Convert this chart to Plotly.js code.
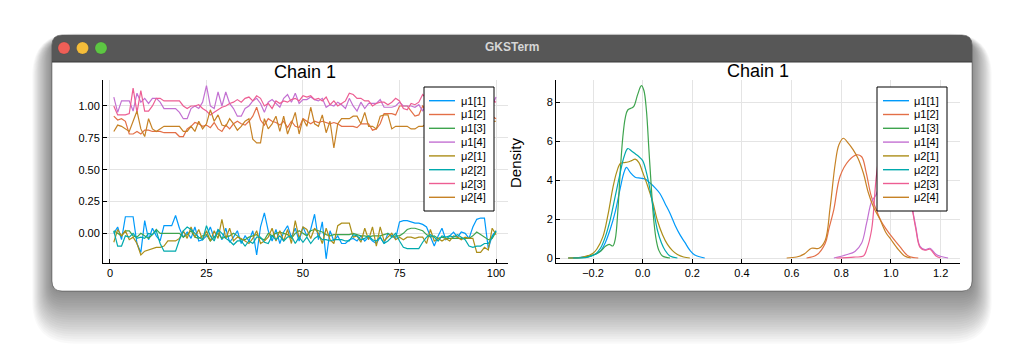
<!DOCTYPE html>
<html>
<head>
<meta charset="utf-8">
<script src="https://cdn.plot.ly/plotly-3.0.1.min.js"></script>
<style>html,body{margin:0;padding:0;background:#fff;}#chart{width:1024px;height:358px;}</style>
</head>
<body>
<div id="chart"></div>
<script>
// ---------- DATA ----------
const seriesNames = ["μ1[1]", "μ1[2]", "μ1[3]", "μ1[4]", "μ2[1]", "μ2[2]", "μ2[3]", "μ2[4]"];
const seriesColors = ["#009AFA", "#E36F47", "#3EA44E", "#C371D2", "#AC8E18", "#00A9AD", "#ED5E93", "#C68225"];

const iterations = [1,2,3,4,5,6,7,8,9,10,11,12,13,14,15,16,17,18,19,20,21,22,23,24,25,26,27,28,29,30,31,32,33,34,35,36,37,38,39,40,41,42,43,44,45,46,47,48,49,50,51,52,53,54,55,56,57,58,59,60,61,62,63,64,65,66,67,68,69,70,71,72,73,74,75,76,77,78,79,80,81,82,83,84,85,86,87,88,89,90,91,92,93,94,95,96,97,98,99,100];

const mu1_1 = [0.00,0.05,-0.05,0.13,0.13,0.13,-0.08,-0.15,0.10,-0.05,
  0.04,-0.02,-0.06,0.06,0.06,0.06,0.14,0.04,-0.03,0.01,
  -0.04,0.05,-0.06,-0.05,-0.02,0.05,-0.04,0.03,-0.05,0.04,
  -0.07,-0.03,0.02,-0.08,-0.02,-0.06,0.02,-0.17,0.05,0.16,
  0.02,-0.06,0.03,-0.08,0.01,0.06,-0.03,0.04,-0.06,0.05,
  -0.02,0.03,0.15,-0.05,0.09,-0.20,0.02,-0.06,-0.02,-0.08,
  -0.08,-0.05,-0.04,-0.06,-0.02,-0.06,-0.03,-0.06,-0.08,-0.03,
  -0.08,0.00,-0.02,-0.04,0.09,0.10,0.10,0.09,0.08,0.08,
  0.07,0.05,-0.02,-0.10,-0.02,0.04,-0.05,-0.02,0.01,-0.03,
  0.01,0.00,-0.04,0.05,0.11,0.12,0.12,-0.12,-0.02,0.02];
const mu1_2 = [0.92,0.89,0.90,0.88,0.78,0.78,0.80,0.78,0.81,0.81,
  0.80,0.80,0.80,0.79,0.79,0.79,0.79,0.76,0.76,0.82,
  0.84,0.87,0.86,0.84,0.85,0.83,0.87,0.82,0.80,0.85,
  0.82,0.86,0.88,0.86,0.85,0.88,0.92,0.99,0.89,0.85,
  0.90,0.88,0.87,0.85,0.88,0.83,0.88,0.84,0.83,0.90,
  0.88,0.86,0.88,0.87,0.88,0.87,0.86,0.87,0.86,0.84,
  0.84,0.84,0.84,0.83,0.86,0.86,0.86,0.81,0.82,0.86,
  0.94,0.94,0.94,0.93,1.00,1.00,1.00,0.96,0.92,0.93,
  1.00,0.96,0.92,0.96,0.96,0.90,0.92,0.96,0.92,0.91,
  0.94,0.95,0.90,0.92,0.96,0.90,0.88,0.95,0.92,0.90];
const mu1_3 = [0.02,0.00,-0.02,0.02,0.02,-0.02,-0.03,0.00,-0.02,-0.04,
  -0.01,0.03,0.00,0.00,0.00,0.00,0.00,0.00,-0.03,-0.01,
  0.02,-0.03,-0.04,-0.02,-0.01,-0.06,-0.03,0.00,-0.04,-0.03,
  -0.02,0.00,-0.02,-0.05,-0.05,-0.03,-0.02,-0.01,-0.04,-0.05,
  0.00,-0.02,0.00,0.01,0.00,-0.01,-0.04,0.00,0.02,0.00,
  -0.02,0.02,0.03,0.02,0.01,-0.01,-0.02,-0.01,-0.01,-0.01,
  -0.01,-0.01,0.00,-0.01,-0.02,-0.02,-0.03,-0.02,-0.02,-0.02,
  -0.01,0.00,-0.03,-0.02,-0.02,0.00,0.03,0.04,0.04,0.03,
  0.02,-0.01,-0.03,-0.02,-0.04,-0.03,-0.04,-0.04,-0.04,-0.04,
  -0.04,-0.04,-0.04,-0.02,0.01,-0.01,-0.03,-0.05,-0.04,0.01];
const mu1_4 = [1.07,0.95,1.04,1.04,1.04,0.96,1.10,1.03,1.06,1.02,
  1.06,1.06,1.03,0.98,0.98,0.98,0.98,0.95,0.90,0.90,
  0.98,1.00,0.98,1.03,1.16,1.00,0.98,1.11,1.00,1.11,
  1.02,0.98,0.92,0.92,0.98,1.00,1.04,1.06,1.02,0.95,
  1.03,1.05,1.02,0.99,1.06,1.09,1.03,1.10,1.02,1.05,
  1.05,1.07,1.05,1.04,1.06,0.99,1.01,1.00,1.03,1.01,
  0.98,1.06,1.00,0.96,1.03,0.98,1.02,1.02,1.02,1.05,
  0.99,0.99,0.99,1.00,1.03,1.00,1.00,1.00,0.99,1.01,
  0.96,1.02,0.98,1.00,1.05,1.08,1.02,1.00,1.03,0.98,
  1.01,1.04,1.00,0.99,1.03,1.00,1.01,1.06,1.00,1.07];
const mu2_1 = [-0.07,0.03,-0.02,0.02,-0.05,-0.03,-0.08,-0.17,-0.14,-0.13,
  -0.12,-0.11,-0.11,-0.10,-0.06,-0.06,-0.06,-0.04,0.02,-0.04,
  0.05,-0.03,0.03,-0.05,0.02,-0.06,0.02,-0.04,0.11,-0.04,
  0.04,-0.06,-0.03,-0.04,-0.06,-0.08,-0.04,0.02,-0.08,-0.06,
  -0.03,0.04,-0.06,0.02,-0.06,0.03,-0.08,0.10,-0.04,0.05,
  0.03,-0.04,0.04,0.00,-0.08,0.04,-0.05,-0.08,0.06,0.08,
  0.08,0.08,-0.03,-0.02,-0.07,0.04,-0.05,0.05,-0.10,0.05,
  -0.06,-0.03,0.00,-0.05,-0.03,-0.05,-0.03,-0.03,-0.04,-0.03,
  -0.03,-0.08,0.03,-0.06,-0.04,-0.06,-0.04,-0.06,-0.02,-0.03,
  -0.05,-0.03,-0.04,-0.04,-0.15,-0.15,-0.11,-0.13,0.04,-0.01];
const mu2_2 = [0.02,-0.10,-0.10,-0.02,-0.03,0.00,-0.04,-0.03,-0.04,0.00,
  -0.01,0.02,-0.08,-0.14,-0.14,-0.14,-0.14,-0.05,0.02,0.05,
  0.03,0.00,-0.03,-0.05,0.06,-0.02,-0.06,0.03,0.00,-0.04,
  -0.06,-0.09,-0.06,-0.06,-0.10,-0.06,-0.08,-0.03,-0.03,-0.07,
  -0.08,-0.02,-0.05,-0.02,-0.06,-0.03,-0.02,-0.08,-0.03,-0.07,
  -0.03,-0.08,-0.04,-0.02,-0.05,-0.05,-0.06,-0.05,-0.05,-0.05,
  -0.06,-0.06,-0.01,-0.02,-0.05,-0.04,-0.02,-0.05,-0.06,-0.03,
  -0.08,-0.06,-0.03,0.00,-0.06,-0.11,-0.12,-0.12,-0.12,-0.12,
  -0.07,-0.03,-0.01,-0.03,-0.06,-0.02,-0.03,-0.02,-0.03,-0.01,
  -0.03,-0.05,-0.10,-0.11,-0.10,-0.10,-0.08,-0.08,-0.03,0.02];
const mu2_3 = [1.00,0.93,0.93,0.93,0.94,1.14,0.95,1.12,0.96,0.96,
  1.00,1.06,1.06,1.04,1.04,1.04,1.04,1.04,1.00,0.98,
  1.00,1.00,1.01,0.98,0.96,0.93,0.95,0.97,0.99,1.00,
  1.02,1.03,1.05,1.03,1.06,1.07,1.04,1.08,1.06,1.00,
  1.02,0.98,1.04,1.02,1.04,1.03,1.05,1.06,1.04,1.08,
  1.07,1.08,1.05,1.06,1.04,1.07,1.01,1.04,1.00,1.02,
  1.04,1.10,1.09,1.06,1.06,1.04,1.04,1.00,1.02,1.03,
  1.03,1.01,1.03,1.06,1.04,0.98,0.97,1.02,1.01,1.03,
  1.09,1.06,1.03,1.01,1.04,1.02,1.00,1.04,1.06,1.02,
  1.00,1.05,1.01,1.03,1.08,1.00,1.02,1.00,1.04,1.03];
const mu2_4 = [0.80,0.85,0.84,0.82,0.80,0.88,0.96,0.82,0.76,0.90,
  0.82,0.80,0.82,0.84,0.84,0.84,0.84,0.84,0.80,0.80,
  0.84,0.80,0.88,0.82,0.86,0.97,0.88,0.93,0.85,0.84,
  0.90,0.86,0.81,0.84,0.88,0.90,0.74,0.71,0.71,0.90,
  0.82,0.86,0.92,0.80,0.92,0.78,0.86,0.95,0.78,0.90,
  0.84,0.99,0.86,0.84,0.93,0.79,0.88,0.67,0.86,0.90,
  0.90,0.90,0.92,0.92,0.86,0.95,0.84,0.84,0.82,0.92,
  0.93,0.93,0.82,0.84,0.84,0.84,0.84,0.82,0.82,0.84,
  0.84,0.86,0.88,0.88,0.87,0.84,0.86,0.86,0.84,0.88,
  0.86,0.86,0.84,0.88,0.86,0.88,0.86,0.86,0.88,0.88];

// density curves
const dens_x_mu1_1 = [-0.30,-0.25,-0.20,-0.17,-0.15,-0.13,-0.11,-0.09,-0.075,-0.065,-0.05,-0.03,-0.01,0.01,0.03,0.05,0.07,0.09,0.11,0.13,0.15,0.17,0.19,0.21,0.25];
const dens_y_mu1_1 = [0,0.03,0.15,0.35,0.8,1.5,2.4,3.6,4.4,4.65,4.4,4.15,4.1,4.05,3.85,3.6,3.3,2.8,2.3,1.7,1.2,0.8,0.4,0.15,0];
const dens_x_mu1_2 = [0.66,0.70,0.735,0.75,0.77,0.795,0.83,0.862,0.882,0.90,0.92,0.94,0.96,0.98,1.00,1.035,1.07,1.11];
const dens_y_mu1_2 = [0,0.15,0.75,1.5,2.5,4.2,5.0,5.3,5.2,4.4,3.2,2.5,1.9,1.5,1.15,0.6,0.1,0];
const dens_x_mu1_3 = [-0.30,-0.24,-0.20,-0.17,-0.15,-0.135,-0.12,-0.11,-0.10,-0.09,-0.08,-0.07,-0.06,-0.045,-0.035,-0.02,-0.005,0.005,0.015,0.025,0.035,0.045,0.055,0.065,0.08,0.11];
const dens_y_mu1_3 = [0,0.03,0.15,0.35,0.6,0.7,0.62,1.0,2.4,4.5,6.2,7.2,7.6,7.7,7.8,8.4,8.85,8.6,7.6,5.6,3.6,1.9,0.9,0.4,0.1,0];
const dens_x_mu1_4 = [0.77,0.82,0.855,0.882,0.902,0.922,0.942,0.97,1.00,1.03,1.06,1.085,1.10,1.117,1.137,1.157,1.184,1.23];
const dens_y_mu1_4 = [0,0.17,0.34,0.77,1.8,2.9,3.3,5.0,6.5,6.0,4.5,2.6,1.6,0.6,0.43,0.5,0.17,0];
const dens_x_mu2_1 = [-0.30,-0.24,-0.20,-0.185,-0.16,-0.14,-0.12,-0.105,-0.09,-0.075,-0.06,-0.045,-0.03,-0.015,0.0,0.02,0.04,0.06,0.08,0.10,0.12,0.14,0.165,0.19];
const dens_y_mu2_1 = [0,0.05,0.25,0.45,1.1,2.2,3.6,4.4,4.85,4.9,4.93,5.0,5.08,4.9,4.4,3.7,2.9,1.9,1.2,0.7,0.38,0.18,0.05,0];
const dens_x_mu2_2 = [-0.28,-0.22,-0.19,-0.17,-0.15,-0.13,-0.11,-0.09,-0.075,-0.06,-0.045,-0.03,-0.015,0.0,0.015,0.03,0.045,0.06,0.075,0.09,0.11,0.14];
const dens_y_mu2_2 = [0,0.05,0.2,0.5,1.1,2.0,3.2,4.4,5.2,5.62,5.5,5.35,5.2,5.0,4.4,3.5,2.4,1.4,0.8,0.4,0.1,0];
const dens_x_mu2_3 = [0.78,0.85,0.889,0.902,0.922,0.942,0.97,1.00,1.03,1.06,1.085,1.10,1.117,1.137,1.157,1.18,1.20];
const dens_y_mu2_3 = [0,0.05,0.1,0.43,1.45,4.3,6.5,7.2,6.2,4.5,2.6,1.5,0.55,0.4,0.45,0.12,0];
const dens_x_mu2_4 = [0.58,0.62,0.65,0.68,0.71,0.735,0.755,0.775,0.79,0.808,0.828,0.848,0.868,0.889,0.909,0.93,0.955,0.98,1.00,1.03,1.055,1.08];
const dens_y_mu2_4 = [0,0.05,0.2,0.5,0.5,0.9,2.6,4.8,5.8,6.15,5.9,5.55,5.1,4.35,3.35,2.6,2.0,1.3,0.95,0.43,0.1,0];

const traceSeries = [mu1_1, mu1_2, mu1_3, mu1_4, mu2_1, mu2_2, mu2_3, mu2_4];
const densX = [dens_x_mu1_1, dens_x_mu1_2, dens_x_mu1_3, dens_x_mu1_4, dens_x_mu2_1, dens_x_mu2_2, dens_x_mu2_3, dens_x_mu2_4];
const densY = [dens_y_mu1_1, dens_y_mu1_2, dens_y_mu1_3, dens_y_mu1_4, dens_y_mu2_1, dens_y_mu2_2, dens_y_mu2_3, dens_y_mu2_4];

const xTicksLeft = [0, 25, 50, 75, 100];
const yTicksLeft = [0, 0.25, 0.5, 0.75, 1.0];
const xTicksRight = [-0.2, 0, 0.2, 0.4, 0.6, 0.8, 1.0, 1.2];
const yTicksRight = [0, 2, 4, 6, 8];

// ---------- LAYOUT HELPERS ----------
const W = 1024, H = 358;
const PX = v => v / W, PY = v => 1 - v / H;
const FONT = "Liberation Sans, Arial, sans-serif";

function rrPath(x0, y0, x1, y1, rt, rb) {
  const X = PX, Y = PY;
  return `M${X(x0+rt)},${Y(y0)} L${X(x1-rt)},${Y(y0)} Q${X(x1)},${Y(y0)} ${X(x1)},${Y(y0+rt)} ` +
         `L${X(x1)},${Y(y1-rb)} Q${X(x1)},${Y(y1)} ${X(x1-rb)},${Y(y1)} ` +
         `L${X(x0+rb)},${Y(y1)} Q${X(x0)},${Y(y1)} ${X(x0)},${Y(y1-rb)} ` +
         `L${X(x0)},${Y(y0+rt)} Q${X(x0)},${Y(y0)} ${X(x0+rt)},${Y(y0)} Z`;
}

const shapes = [];
const annotations = [];

// soft window shadow
for (let k = 22; k >= 1; k--) {
  shapes.push({type: 'path', xref: 'paper', yref: 'paper', layer: 'below',
    path: rrPath(52 - 0.9*k, 42 - 0.4*k, 972 + 0.9*k, 291 + 2.4*k, 10 + 1.5*k, 10 + 1.5*k),
    fillcolor: 'rgba(0,0,0,0.022)', line: {width: 0}});
}
// window body
shapes.push({type: 'path', xref: 'paper', yref: 'paper', layer: 'below',
  path: rrPath(52, 35, 972, 291, 10, 10), fillcolor: '#ffffff', line: {color: 'rgba(0,0,0,0.35)', width: 1}});
// title bar
shapes.push({type: 'path', xref: 'paper', yref: 'paper', layer: 'below',
  path: rrPath(52, 35, 972, 62, 10, 0), fillcolor: '#575757', line: {width: 0}});
shapes.push({type: 'line', xref: 'paper', yref: 'paper', layer: 'below',
  x0: PX(52), x1: PX(972), y0: PY(62), y1: PY(62), line: {color: '#3a3a3a', width: 1}});
// traffic lights
[[64, '#ee5f57'], [82.5, '#f5bd3a'], [101, '#5dc643']].forEach(([cx, col]) => {
  shapes.push({type: 'circle', xref: 'paper', yref: 'paper', layer: 'below',
    x0: PX(cx - 6), x1: PX(cx + 6), y0: PY(54), y1: PY(42), fillcolor: col, line: {color: 'rgba(0,0,0,0.15)', width: 0.5}});
});
annotations.push({xref: 'paper', yref: 'paper', x: PX(512), y: PY(47), text: '<b>GKSTerm</b>', showarrow: false,
  xanchor: 'center', yanchor: 'middle', font: {family: FONT, size: 12, color: '#d6d6d6'}});

// subplot titles
annotations.push({xref: 'paper', yref: 'paper', x: PX(305), y: PY(72), text: 'Chain 1', showarrow: false,
  xanchor: 'center', yanchor: 'middle', font: {family: FONT, size: 18, color: '#000'}});
annotations.push({xref: 'paper', yref: 'paper', x: PX(758), y: PY(71), text: 'Chain 1', showarrow: false,
  xanchor: 'center', yanchor: 'middle', font: {family: FONT, size: 18, color: '#000'}});
annotations.push({xref: 'paper', yref: 'paper', x: PX(515), y: PY(163), text: 'Density', showarrow: false, textangle: -90,
  xanchor: 'center', yanchor: 'middle', font: {family: FONT, size: 15, color: '#000'}});

// legends (one per panel)
function addLegend(bx0, by0, bx1, by1, lx0, lx1, tx) {
  shapes.push({type: 'rect', xref: 'paper', yref: 'paper', layer: 'above',
    x0: PX(bx0), x1: PX(bx1), y0: PY(by1), y1: PY(by0), fillcolor: '#ffffff', line: {color: '#000', width: 1}});
  seriesNames.forEach((name, i) => {
    const ry = 100.7 + i * 13.8;
    shapes.push({type: 'line', xref: 'paper', yref: 'paper', layer: 'above',
      x0: PX(lx0), x1: PX(lx1), y0: PY(ry), y1: PY(ry), line: {color: seriesColors[i], width: 1.4}});
    annotations.push({xref: 'paper', yref: 'paper', x: PX(tx), y: PY(ry), text: name, showarrow: false,
      xanchor: 'left', yanchor: 'middle', font: {family: FONT, size: 11, color: '#000'}});
  });
}
addLegend(424, 87, 494, 211, 429, 455, 459);
addLegend(877, 87, 947, 211, 883, 909, 912);

// ---------- TRACES ----------
const traces = [];
traceSeries.forEach((vals, i) => {
  traces.push({type: 'scatter', mode: 'lines', x: iterations, y: vals, xaxis: 'x', yaxis: 'y',
    name: seriesNames[i], line: {color: seriesColors[i], width: 1.2}, showlegend: false, hoverinfo: 'skip'});
});
densX.forEach((xs, i) => {
  traces.push({type: 'scatter', mode: 'lines', x: xs, y: densY[i], xaxis: 'x2', yaxis: 'y2',
    name: seriesNames[i], line: {color: seriesColors[i], width: 1.2, shape: 'spline', smoothing: 1}, showlegend: false, hoverinfo: 'skip'});
});

const axisCommon = {
  showline: true, linecolor: '#000', linewidth: 1, ticks: 'inside', ticklen: 4, tickcolor: '#000', tickwidth: 1,
  showgrid: true, gridcolor: '#e4e4e4', gridwidth: 1, zeroline: false,
  tickfont: {family: FONT, size: 11, color: '#000'}, automargin: false
};

const layout = {
  width: W, height: H,
  margin: {l: 0, r: 0, t: 0, b: 0, pad: 0},
  paper_bgcolor: '#ffffff',
  plot_bgcolor: 'rgba(0,0,0,0)',
  showlegend: false,
  xaxis: Object.assign({}, axisCommon, {domain: [PX(103), PX(508)], range: [-1.8, 103.1],
    tickmode: 'array', tickvals: xTicksLeft, anchor: 'y'}),
  yaxis: Object.assign({}, axisCommon, {domain: [PY(263), PY(80)], range: [-0.233, 1.204],
    tickmode: 'array', tickvals: yTicksLeft, tickformat: '.2f', anchor: 'x'}),
  xaxis2: Object.assign({}, axisCommon, {domain: [PX(556), PX(960)], range: [-0.349, 1.278],
    tickmode: 'array', tickvals: xTicksRight, tickformat: '.1f', anchor: 'y2'}),
  yaxis2: Object.assign({}, axisCommon, {domain: [PY(263), PY(80)], range: [-0.256, 9.14],
    tickmode: 'array', tickvals: yTicksRight, anchor: 'x2'}),
  shapes: shapes,
  annotations: annotations
};

Plotly.newPlot('chart', traces, layout, {staticPlot: true, displayModeBar: false});
</script>
</body>
</html>
